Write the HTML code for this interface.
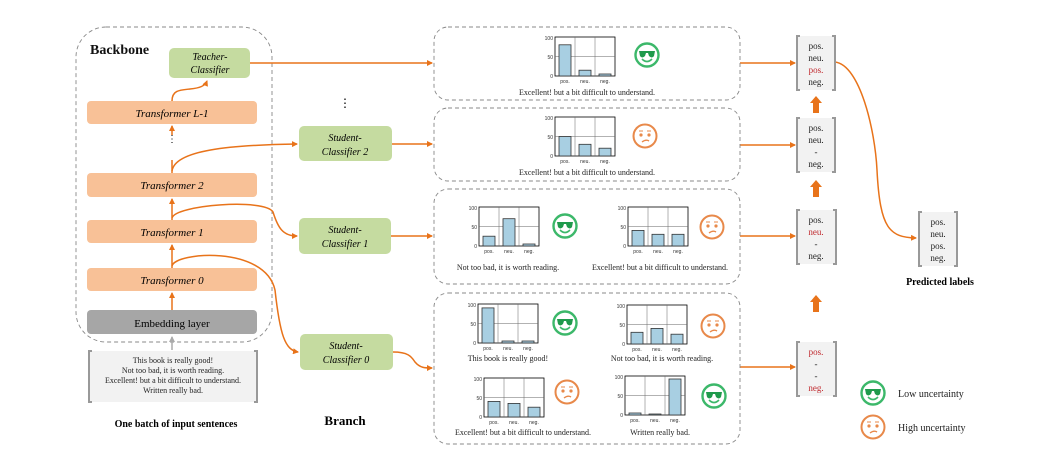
<!DOCTYPE html>
<html><head><meta charset="utf-8"><style>
html,body{margin:0;padding:0;background:#fff;}
svg{display:block;font-family:"Liberation Serif",serif;}
.t{font-size:8px;fill:#222;}
.ax{font-family:"Liberation Sans",sans-serif;font-size:5px;fill:#333;}
</style></head><body>
<svg width="1060" height="460" viewBox="0 0 1060 460" xmlns="http://www.w3.org/2000/svg">
<defs>
<marker id="ar" markerWidth="6" markerHeight="6" refX="5" refY="3" orient="auto" markerUnits="userSpaceOnUse"><path d="M0,0 L6,3 L0,6 z" fill="#e8731a"/></marker>
<marker id="ag" markerWidth="6" markerHeight="6" refX="5" refY="3" orient="auto" markerUnits="userSpaceOnUse"><path d="M0,0 L6,3 L0,6 z" fill="#aaa"/></marker>
</defs>

<rect x="76" y="27" width="196" height="315" rx="30" fill="none" stroke="#888" stroke-dasharray="4,3" stroke-width="0.9"/>
<text x="90" y="54" font-size="14" font-weight="bold" fill="#111">Backbone</text>
<rect x="169" y="48" width="81" height="30" rx="5" fill="#c5dba0"/>
<text x="210" y="60" font-size="10" font-style="italic" text-anchor="middle">Teacher-</text>
<text x="210" y="73" font-size="10" font-style="italic" text-anchor="middle">Classifier</text>
<g font-size="11" font-style="italic" text-anchor="middle">
<rect x="87" y="101" width="170" height="23" rx="4" fill="#f8c197"/><text x="172" y="117">Transformer L-1</text>
<rect x="87" y="173" width="170" height="24" rx="4" fill="#f8c197"/><text x="172" y="189">Transformer 2</text>
<rect x="87" y="220" width="170" height="23" rx="4" fill="#f8c197"/><text x="172" y="236">Transformer 1</text>
<rect x="87" y="268" width="170" height="23" rx="4" fill="#f8c197"/><text x="172" y="284">Transformer 0</text>
</g>
<rect x="87" y="310" width="170" height="24" rx="4" fill="#a6a6a6"/>
<text x="172" y="327" font-size="11" text-anchor="middle">Embedding layer</text>
<text x="172" y="142" font-size="10" text-anchor="middle">⋮</text>

<rect x="89" y="351" width="168" height="51" fill="#f2f2f2"/>
<path d="M92,351 H89 V402 H92 M254,351 H257 V402 H254" fill="none" stroke="#999" stroke-width="2"/>
<g class="t" text-anchor="middle" font-size="7.5">
<text x="173" y="363">This book is really good!</text>
<text x="173" y="373">Not too bad, it is worth reading.</text>
<text x="173" y="383">Excellent!  but a bit difficult to understand.</text>
<text x="173" y="393">Written really bad.</text>
</g>
<text x="176" y="427" font-size="10" font-weight="bold" text-anchor="middle">One batch of input sentences</text>
<text x="345" y="425" font-size="13" font-weight="bold" text-anchor="middle">Branch</text>
<text x="345" y="107" font-size="12" text-anchor="middle">⋮</text>

<g font-size="10" font-style="italic" text-anchor="middle">
<rect x="299" y="126" width="93" height="35" rx="5" fill="#c5dba0"/><text x="345" y="141">Student-</text><text x="345" y="155">Classifier 2</text>
<rect x="299" y="218" width="92" height="36" rx="5" fill="#c5dba0"/><text x="345" y="233">Student-</text><text x="345" y="247">Classifier 1</text>
<rect x="300" y="334" width="93" height="36" rx="5" fill="#c5dba0"/><text x="346" y="349">Student-</text><text x="346" y="363">Classifier 0</text>
</g>

<g fill="none" stroke="#e8731a" stroke-width="1.5">
<path d="M172,310 V293" marker-end="url(#ar)"/>
<path d="M172,268 V245" marker-end="url(#ar)"/>
<path d="M172,220 V199" marker-end="url(#ar)"/>
<path d="M172,173 V160" />
<path d="M172,135 V126" marker-end="url(#ar)"/>
<path d="M172,101 C172,90 180,90 190,89 C200,88 205,86 207,81" marker-end="url(#ar)"/>
<path d="M250,63 H432" marker-end="url(#ar)"/>
<path d="M172,171 C175,150 230,145 297,144" marker-end="url(#ar)"/>
<path d="M172,218 C175,205 265,198 273,212 C278,228 283,236 297,236" marker-end="url(#ar)"/>
<path d="M172,266 C175,252 265,245 275,290 C280,335 285,350 298,352" marker-end="url(#ar)"/>
<path d="M392,144 H432" marker-end="url(#ar)"/>
<path d="M391,236 H432" marker-end="url(#ar)"/>
<path d="M393,352 C410,352 412,358 415,362 C420,368 425,368 432,368" marker-end="url(#ar)"/>
<path d="M740,63 H795" marker-end="url(#ar)"/>
<path d="M740,145 H795" marker-end="url(#ar)"/>
<path d="M740,236 H795" marker-end="url(#ar)"/>
<path d="M740,367 H795" marker-end="url(#ar)"/>
<path d="M835,62 C860,65 875,130 877,170 C880,230 890,237 916,238" marker-end="url(#ar)"/>
</g>
<path d="M172,350 V337" stroke="#aaa" stroke-width="1.5" marker-end="url(#ag)"/>

<g fill="none" stroke="#888" stroke-dasharray="4,3" stroke-width="0.9">
<rect x="434" y="27" width="306" height="73" rx="14"/>
<rect x="434" y="108" width="306" height="73" rx="14"/>
<rect x="434" y="189" width="306" height="95" rx="14"/>
<rect x="434" y="293" width="306" height="151" rx="14"/>
</g>

<g stroke-width="0.8">
<g transform="translate(555,37)">
<rect width="60" height="39" fill="none" stroke="#000"/><path d="M20,0V39M40,0V39M0,19.5H60" stroke="#666" stroke-width="0.5"/>
<rect x="4" y="7.8" width="12" height="31.2" fill="#a8cfe2" stroke="#333"/><rect x="24" y="33.2" width="12" height="5.8" fill="#a8cfe2" stroke="#333"/><rect x="44" y="37" width="12" height="2" fill="#a8cfe2" stroke="#333"/>
<text class="ax" x="-2" y="3" text-anchor="end">100</text><text class="ax" x="-2" y="22" text-anchor="end">50</text><text class="ax" x="-2" y="41" text-anchor="end">0</text>
<text class="ax" x="10" y="46" text-anchor="middle">pos.</text><text class="ax" x="30" y="46" text-anchor="middle">neu.</text><text class="ax" x="50" y="46" text-anchor="middle">neg.</text>
</g>
<g transform="translate(555,117)">
<rect width="60" height="39" fill="none" stroke="#000"/><path d="M20,0V39M40,0V39M0,19.5H60" stroke="#666" stroke-width="0.5"/>
<rect x="4" y="19.5" width="12" height="19.5" fill="#a8cfe2" stroke="#333"/><rect x="24" y="27.3" width="12" height="11.7" fill="#a8cfe2" stroke="#333"/><rect x="44" y="31.2" width="12" height="7.8" fill="#a8cfe2" stroke="#333"/>
<text class="ax" x="-2" y="3" text-anchor="end">100</text><text class="ax" x="-2" y="22" text-anchor="end">50</text><text class="ax" x="-2" y="41" text-anchor="end">0</text>
<text class="ax" x="10" y="46" text-anchor="middle">pos.</text><text class="ax" x="30" y="46" text-anchor="middle">neu.</text><text class="ax" x="50" y="46" text-anchor="middle">neg.</text>
</g>
<g transform="translate(479,207)">
<rect width="60" height="39" fill="none" stroke="#000"/><path d="M20,0V39M40,0V39M0,19.5H60" stroke="#666" stroke-width="0.5"/>
<rect x="4" y="29.2" width="12" height="9.8" fill="#a8cfe2" stroke="#333"/><rect x="24" y="11.7" width="12" height="27.3" fill="#a8cfe2" stroke="#333"/><rect x="44" y="37" width="12" height="2" fill="#a8cfe2" stroke="#333"/>
<text class="ax" x="-2" y="3" text-anchor="end">100</text><text class="ax" x="-2" y="22" text-anchor="end">50</text><text class="ax" x="-2" y="41" text-anchor="end">0</text>
<text class="ax" x="10" y="46" text-anchor="middle">pos.</text><text class="ax" x="30" y="46" text-anchor="middle">neu.</text><text class="ax" x="50" y="46" text-anchor="middle">neg.</text>
</g>
<g transform="translate(628,207)">
<rect width="60" height="39" fill="none" stroke="#000"/><path d="M20,0V39M40,0V39M0,19.5H60" stroke="#666" stroke-width="0.5"/>
<rect x="4" y="23.4" width="12" height="15.6" fill="#a8cfe2" stroke="#333"/><rect x="24" y="27.3" width="12" height="11.7" fill="#a8cfe2" stroke="#333"/><rect x="44" y="27.3" width="12" height="11.7" fill="#a8cfe2" stroke="#333"/>
<text class="ax" x="-2" y="3" text-anchor="end">100</text><text class="ax" x="-2" y="22" text-anchor="end">50</text><text class="ax" x="-2" y="41" text-anchor="end">0</text>
<text class="ax" x="10" y="46" text-anchor="middle">pos.</text><text class="ax" x="30" y="46" text-anchor="middle">neu.</text><text class="ax" x="50" y="46" text-anchor="middle">neg.</text>
</g>
<g transform="translate(478,304)">
<rect width="60" height="39" fill="none" stroke="#000"/><path d="M20,0V39M40,0V39M0,19.5H60" stroke="#666" stroke-width="0.5"/>
<rect x="4" y="3.9" width="12" height="35.1" fill="#a8cfe2" stroke="#333"/><rect x="24" y="37" width="12" height="2" fill="#a8cfe2" stroke="#333"/><rect x="44" y="37" width="12" height="2" fill="#a8cfe2" stroke="#333"/>
<text class="ax" x="-2" y="3" text-anchor="end">100</text><text class="ax" x="-2" y="22" text-anchor="end">50</text><text class="ax" x="-2" y="41" text-anchor="end">0</text>
<text class="ax" x="10" y="46" text-anchor="middle">pos.</text><text class="ax" x="30" y="46" text-anchor="middle">neu.</text><text class="ax" x="50" y="46" text-anchor="middle">neg.</text>
</g>
<g transform="translate(627,305)">
<rect width="60" height="39" fill="none" stroke="#000"/><path d="M20,0V39M40,0V39M0,19.5H60" stroke="#666" stroke-width="0.5"/>
<rect x="4" y="27.3" width="12" height="11.7" fill="#a8cfe2" stroke="#333"/><rect x="24" y="23.4" width="12" height="15.6" fill="#a8cfe2" stroke="#333"/><rect x="44" y="29.2" width="12" height="9.8" fill="#a8cfe2" stroke="#333"/>
<text class="ax" x="-2" y="3" text-anchor="end">100</text><text class="ax" x="-2" y="22" text-anchor="end">50</text><text class="ax" x="-2" y="41" text-anchor="end">0</text>
<text class="ax" x="10" y="46" text-anchor="middle">pos.</text><text class="ax" x="30" y="46" text-anchor="middle">neu.</text><text class="ax" x="50" y="46" text-anchor="middle">neg.</text>
</g>
<g transform="translate(484,378)">
<rect width="60" height="39" fill="none" stroke="#000"/><path d="M20,0V39M40,0V39M0,19.5H60" stroke="#666" stroke-width="0.5"/>
<rect x="4" y="23.4" width="12" height="15.6" fill="#a8cfe2" stroke="#333"/><rect x="24" y="25.4" width="12" height="13.6" fill="#a8cfe2" stroke="#333"/><rect x="44" y="29.2" width="12" height="9.8" fill="#a8cfe2" stroke="#333"/>
<text class="ax" x="-2" y="3" text-anchor="end">100</text><text class="ax" x="-2" y="22" text-anchor="end">50</text><text class="ax" x="-2" y="41" text-anchor="end">0</text>
<text class="ax" x="10" y="46" text-anchor="middle">pos.</text><text class="ax" x="30" y="46" text-anchor="middle">neu.</text><text class="ax" x="50" y="46" text-anchor="middle">neg.</text>
</g>
<g transform="translate(625,376)">
<rect width="60" height="39" fill="none" stroke="#000"/><path d="M20,0V39M40,0V39M0,19.5H60" stroke="#666" stroke-width="0.5"/>
<rect x="4" y="37" width="12" height="2" fill="#a8cfe2" stroke="#333"/><rect x="24" y="38" width="12" height="1" fill="#a8cfe2" stroke="#333"/><rect x="44" y="3" width="12" height="36" fill="#a8cfe2" stroke="#333"/>
<text class="ax" x="-2" y="3" text-anchor="end">100</text><text class="ax" x="-2" y="22" text-anchor="end">50</text><text class="ax" x="-2" y="41" text-anchor="end">0</text>
<text class="ax" x="10" y="46" text-anchor="middle">pos.</text><text class="ax" x="30" y="46" text-anchor="middle">neu.</text><text class="ax" x="50" y="46" text-anchor="middle">neg.</text>
</g>
</g>

<g class="t" text-anchor="middle">
<text x="587" y="95">Excellent!  but a bit difficult to understand.</text>
<text x="587" y="175">Excellent!  but a bit difficult to understand.</text>
<text x="508" y="270">Not too bad, it is worth reading.</text>
<text x="660" y="270">Excellent!  but a bit difficult to understand.</text>
<text x="508" y="361">This book is really good!</text>
<text x="662" y="361">Not too bad, it is worth reading.</text>
<text x="523" y="435">Excellent!  but a bit difficult to understand.</text>
<text x="660" y="435">Written really  bad.</text>
</g>

<g fill="none">
<g transform="translate(647,55)"><circle r="11.5" stroke="#3cb86a" stroke-width="2.4" fill="#fff"/><path d="M-8,-4 H8 L7,1 Q5,4 2,1 L1,-2 H-1 L-2,1 Q-5,4 -7,1 Z" fill="#1f9a4c"/><path d="M-5,4 Q0,9 5,4" stroke="#3cb86a" stroke-width="1.6"/></g>
<g transform="translate(565,226)"><circle r="11.5" stroke="#3cb86a" stroke-width="2.4" fill="#fff"/><path d="M-8,-4 H8 L7,1 Q5,4 2,1 L1,-2 H-1 L-2,1 Q-5,4 -7,1 Z" fill="#1f9a4c"/><path d="M-5,4 Q0,9 5,4" stroke="#3cb86a" stroke-width="1.6"/></g>
<g transform="translate(565,323)"><circle r="11.5" stroke="#3cb86a" stroke-width="2.4" fill="#fff"/><path d="M-8,-4 H8 L7,1 Q5,4 2,1 L1,-2 H-1 L-2,1 Q-5,4 -7,1 Z" fill="#1f9a4c"/><path d="M-5,4 Q0,9 5,4" stroke="#3cb86a" stroke-width="1.6"/></g>
<g transform="translate(714,396)"><circle r="11.5" stroke="#3cb86a" stroke-width="2.4" fill="#fff"/><path d="M-8,-4 H8 L7,1 Q5,4 2,1 L1,-2 H-1 L-2,1 Q-5,4 -7,1 Z" fill="#1f9a4c"/><path d="M-5,4 Q0,9 5,4" stroke="#3cb86a" stroke-width="1.6"/></g>
<g transform="translate(873,393)"><circle r="11.5" stroke="#3cb86a" stroke-width="2.4" fill="#fff"/><path d="M-8,-4 H8 L7,1 Q5,4 2,1 L1,-2 H-1 L-2,1 Q-5,4 -7,1 Z" fill="#1f9a4c"/><path d="M-5,4 Q0,9 5,4" stroke="#3cb86a" stroke-width="1.6"/></g>
</g>
<g fill="none">
<g transform="translate(645,136)"><circle r="11.5" stroke="#e8894a" stroke-width="2" fill="#fff"/><circle cx="-4" cy="-1" r="1.6" fill="#e8894a"/><circle cx="4" cy="-1" r="1.6" fill="#e8894a"/><path d="M-6,-5 H-2 M2,-5 H6" stroke="#e8894a" stroke-width="1"/><path d="M-3,6 Q1,3 4,5" stroke="#e8894a" stroke-width="1.4"/></g>
<g transform="translate(712,227)"><circle r="11.5" stroke="#e8894a" stroke-width="2" fill="#fff"/><circle cx="-4" cy="-1" r="1.6" fill="#e8894a"/><circle cx="4" cy="-1" r="1.6" fill="#e8894a"/><path d="M-6,-5 H-2 M2,-5 H6" stroke="#e8894a" stroke-width="1"/><path d="M-3,6 Q1,3 4,5" stroke="#e8894a" stroke-width="1.4"/></g>
<g transform="translate(713,326)"><circle r="11.5" stroke="#e8894a" stroke-width="2" fill="#fff"/><circle cx="-4" cy="-1" r="1.6" fill="#e8894a"/><circle cx="4" cy="-1" r="1.6" fill="#e8894a"/><path d="M-6,-5 H-2 M2,-5 H6" stroke="#e8894a" stroke-width="1"/><path d="M-3,6 Q1,3 4,5" stroke="#e8894a" stroke-width="1.4"/></g>
<g transform="translate(567,392)"><circle r="11.5" stroke="#e8894a" stroke-width="2" fill="#fff"/><circle cx="-4" cy="-1" r="1.6" fill="#e8894a"/><circle cx="4" cy="-1" r="1.6" fill="#e8894a"/><path d="M-6,-5 H-2 M2,-5 H6" stroke="#e8894a" stroke-width="1"/><path d="M-3,6 Q1,3 4,5" stroke="#e8894a" stroke-width="1.4"/></g>
<g transform="translate(873,427)"><circle r="11.5" stroke="#e8894a" stroke-width="2" fill="#fff"/><circle cx="-4" cy="-1" r="1.6" fill="#e8894a"/><circle cx="4" cy="-1" r="1.6" fill="#e8894a"/><path d="M-6,-5 H-2 M2,-5 H6" stroke="#e8894a" stroke-width="1"/><path d="M-3,6 Q1,3 4,5" stroke="#e8894a" stroke-width="1.4"/></g>
</g>

<g fill="#f2f2f2">
<rect x="797" y="36" width="38" height="54"/><rect x="797" y="118" width="38" height="54"/><rect x="797" y="210" width="39" height="54"/><rect x="797" y="342" width="39" height="54"/><rect x="919" y="212" width="38" height="54"/>
</g>
<g fill="none" stroke="#999" stroke-width="2">
<path d="M800,36 H797 V90 H800 M832,36 H835 V90 H832"/>
<path d="M800,118 H797 V172 H800 M832,118 H835 V172 H832"/>
<path d="M800,210 H797 V264 H800 M833,210 H836 V264 H833"/>
<path d="M800,342 H797 V396 H800 M833,342 H836 V396 H833"/>
<path d="M922,212 H919 V266 H922 M954,212 H957 V266 H954"/>
</g>
<g font-size="9" text-anchor="middle" fill="#222">
<text x="816" y="49">pos.</text><text x="816" y="61">neu.</text><text x="816" y="73" fill="#c0282d">pos.</text><text x="816" y="85">neg.</text>
<text x="816" y="131">pos.</text><text x="816" y="143">neu.</text><text x="816" y="155">-</text><text x="816" y="167">neg.</text>
<text x="816" y="223">pos.</text><text x="816" y="235" fill="#c0282d">neu.</text><text x="816" y="247">-</text><text x="816" y="259">neg.</text>
<text x="816" y="355" fill="#c0282d">pos.</text><text x="816" y="367">-</text><text x="816" y="379">-</text><text x="816" y="391" fill="#c0282d">neg.</text>
<text x="938" y="225">pos.</text><text x="938" y="237">neu.</text><text x="938" y="249">pos.</text><text x="938" y="261">neg.</text>
</g>
<text x="940" y="285" font-size="10" font-weight="bold" text-anchor="middle">Predicted labels</text>

<g fill="#e8731a">
<path d="M816,96 L822,103 H819 V113 H813 V103 H810 Z"/>
<path d="M816,180 L822,187 H819 V197 H813 V187 H810 Z"/>
<path d="M816,295 L822,302 H819 V312 H813 V302 H810 Z"/>
</g>

<text x="898" y="397" font-size="10" fill="#222">Low uncertainty</text>
<text x="898" y="431" font-size="10" fill="#222">High uncertainty</text>
</svg>
</body></html>
